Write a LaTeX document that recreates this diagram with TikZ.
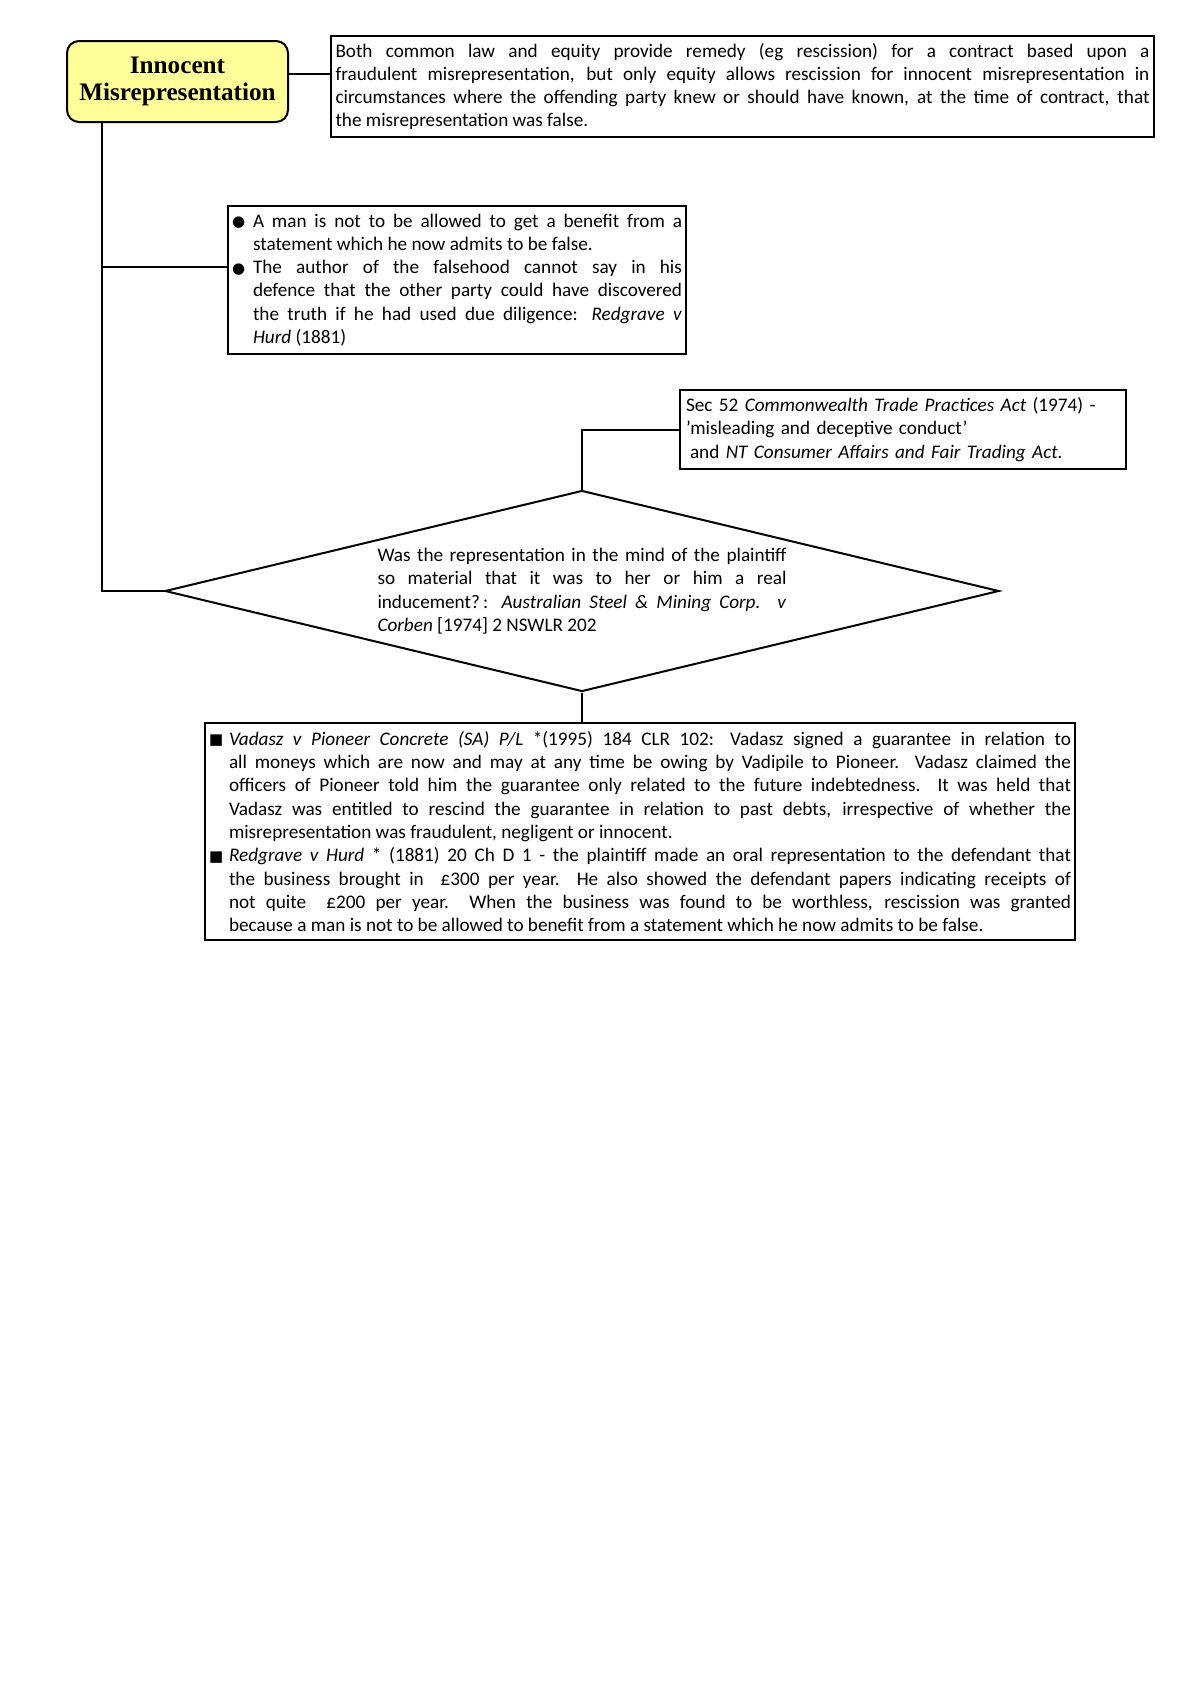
\documentclass[tikz,border=0pt]{standalone}
\usepackage{fontspec}
\setmainfont{Carlito}
\newfontfamily\titlefont{Liberation Serif}
\newfontfamily\symfont{DejaVu Sans}
\usetikzlibrary{shapes.geometric}
\definecolor{titleyellow}{HTML}{FFFF99}
\newcommand{\dotb}{\makebox[10.5pt][l]{\raisebox{0.3pt}{\symfont\fontsize{7.5}{7.5}\selectfont ●}}}
\newcommand{\sqb}{\makebox[10pt][l]{\raisebox{0.2pt}{\symfont\fontsize{7.5}{7.5}\selectfont ■}}}
\tikzset{
  conn/.style={line width=1pt},
  txtbox/.style={draw, line width=1pt, rectangle, inner ysep=0pt,
    font=\fontsize{9.6}{11.65}\selectfont},
  titlebox/.style={draw, line width=1pt, rounded corners=6pt, fill=titleyellow,
    align=center, inner sep=0pt, font=\titlefont\bfseries\fontsize{12.6}{13.8}\selectfont},
}
\begin{document}
\begin{tikzpicture}[x=0.5pt,y=-0.5pt]
\useasboundingbox (0,0) rectangle (1200,1698);

% title
\node[titlebox, minimum width=110.5pt, minimum height=40.5pt] (title) at (177.5,81.5)
  {\raisebox{-1pt}{Innocent}\\\raisebox{-1pt}{Misrepresentation}};

% box 1
\node[txtbox, inner xsep=2.25pt, text width=407pt, align=justify,
  minimum width=411.5pt, minimum height=50.5pt] (box1) at (742.5,86.5)
  {Both common law and equity provide remedy (eg rescission) for a contract based upon a\linebreak
   fraudulent misrepresentation, but only equity allows rescission for innocent misrepresentation in\linebreak
   circumstances where the offending party knew or should have known, at the time of contract, that\linebreak
   the misrepresentation was false.};

% box 2
\node[txtbox, inner xsep=2pt, text width=225pt, align=justify,
  minimum width=229pt, minimum height=74pt] (box2) at (457,280)
  {\hangindent=10.5pt\hangafter=1\noindent\dotb A man is not to be allowed to get a benefit from a\linebreak
   statement which he now admits to be false.\par
   \hangindent=10.5pt\hangafter=1\noindent\dotb The author of the falsehood cannot say in his\linebreak
   defence that the other party could have discovered\linebreak
   the truth if he had used due diligence: \textit{Redgrave v}\linebreak
   \textit{Hurd} (1881)\par};

% box 3
\node[txtbox, inner xsep=3pt, text width=217pt, align=left,
  minimum width=223pt, minimum height=39.5pt] (box3) at (903,429.5)
  {Sec 52 \textit{Commonwealth Trade Practices Act} (1974) -\\
   'misleading and deceptive conduct'\\
   \hspace*{2pt}and \textit{NT Consumer Affairs and Fair Trading Act.}};

% diamond
\node[draw, line width=1pt, diamond, inner sep=0pt, minimum width=417pt,
  minimum height=100.5pt] (q) at (582,591) {};
\node[inner sep=0pt, text width=204.5pt, align=justify,
  font=\fontsize{9.6}{11.65}\selectfont] (qt) at (q.center)
  {Was the representation in the mind of the plaintiff\linebreak
   so material that it was to her or him a real\linebreak
   inducement?\,: \textit{Australian Steel \& Mining Corp. v}\linebreak
   \textit{Corben} [1974] 2 NSWLR 202};

% box 4
\node[txtbox, inner xsep=2pt, text width=431pt, align=justify,
  minimum width=435pt, minimum height=108.5pt] (box4) at (640,831.5)
  {\hangindent=10pt\hangafter=1\noindent\sqb \textit{Vadasz v Pioneer Concrete (SA) P/L} *(1995) 184 CLR 102: Vadasz signed a guarantee in relation to\linebreak
   all moneys which are now and may at any time be owing by Vadipile to Pioneer.\ \ Vadasz claimed the\linebreak
   officers of Pioneer told him the guarantee only related to the future indebtedness.\ \ It was held that\linebreak
   Vadasz was entitled to rescind the guarantee in relation to past debts, irrespective of whether the\linebreak
   misrepresentation was fraudulent, negligent or innocent.\par
   \hangindent=10pt\hangafter=1\noindent\sqb \textit{Redgrave v Hurd} * (1881) 20 Ch D 1 - the plaintiff made an oral representation to the defendant that\linebreak
   the business brought in \ £300 per year.\ \ He also showed the defendant papers indicating receipts of\linebreak
   not quite \ £200 per year.\ \ When the business was found to be worthless, rescission was granted\linebreak
   because a man is not to be allowed to benefit from a statement which he now admits to be false.\par};

% connectors
\coordinate (j1) at (300,74);
\coordinate (t0) at (102,122);
\coordinate (j2) at (150,267);
\draw[conn] (title.east |- j1) -- (box1.west |- j1);
\draw[conn] (t0) |- (q.west);
\draw[conn] (t0 |- j2) -- (box2.west |- j2);
\draw[conn] (q.north) |- (box3.west);
\draw[conn] (q.south) -- (q.south |- box4.north);
\end{tikzpicture}
\end{document}
